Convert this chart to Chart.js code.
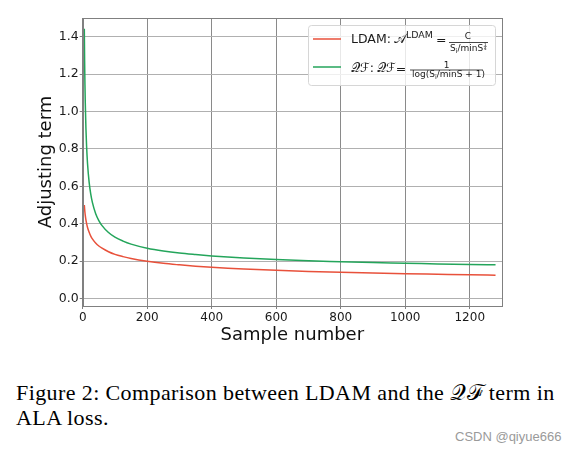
<!DOCTYPE html>
<html>
<head>
<meta charset="utf-8">
<script src="https://cdn.jsdelivr.net/npm/chart.js@4.4.0/dist/chart.umd.min.js"></script>
<style>
  body { margin: 0; background: #fff; width: 578px; height: 453px; overflow: hidden; position: relative; }
  #myChart { position: absolute; left: 0; top: 0; }
  .caption { position: absolute; left: 16px; top: 380px; font-family: "Liberation Serif", serif; font-size: 22px; letter-spacing: 0.4px; line-height: 25px; color: #000; white-space: nowrap; }
  .mark { position: absolute; left: 455px; top: 429px; font-family: "Liberation Sans", sans-serif; font-size: 13px; line-height: 15px; color: #9a9a9a; white-space: nowrap; }
</style>
</head>
<body>
<canvas id="myChart" width="578" height="350"></canvas>
<div class="caption">Figure 2: Comparison between LDAM and the 𝒬ℱ term in<br>ALA loss.</div>
<div class="mark">CSDN @qiyue666</div>
<script>
// data //
const sampleNumber = [5, 6, 7, 8, 10, 12, 15, 20, 25, 30, 40, 50, 60, 80, 100, 125, 150, 200, 250, 300, 350, 400, 450, 500, 600, 700, 800, 900, 1000, 1100, 1200, 1280];
const ldamTerm = [0.500, 0.478, 0.460, 0.445, 0.420, 0.402, 0.380, 0.354, 0.334, 0.319, 0.297, 0.281, 0.269, 0.250, 0.236, 0.224, 0.214, 0.199, 0.188, 0.180, 0.173, 0.167, 0.162, 0.158, 0.151, 0.145, 0.141, 0.137, 0.133, 0.130, 0.127, 0.125];
const qfTerm = [1.443, 1.268, 1.142, 1.047, 0.910, 0.817, 0.721, 0.621, 0.558, 0.514, 0.455, 0.417, 0.390, 0.353, 0.328, 0.307, 0.291, 0.269, 0.254, 0.243, 0.235, 0.228, 0.222, 0.217, 0.209, 0.202, 0.197, 0.192, 0.189, 0.185, 0.182, 0.180];
const xTicks = [0, 200, 400, 600, 800, 1000, 1200];
const yTicks = [0.0, 0.2, 0.4, 0.6, 0.8, 1.0, 1.2, 1.4];

const red = "#e8513b";
const green = "#24a55b";
const FONT = '"DejaVu Sans", "DejaVu Serif", "Noto Sans", sans-serif';

function toPoints(ys) {
  return sampleNumber.map((s, i) => ({ x: s, y: ys[i] }));
}

// text piece helper
function put(ctx, s, x, y, size, align) {
  ctx.font = size + "px " + FONT;
  ctx.textAlign = align || "left";
  ctx.fillText(s, x, y);
  return x + ctx.measureText(s).width;
}

const frame = {
  id: "frame",
  afterDraw(chart) {
    const { ctx, chartArea: a } = chart;
    ctx.save();
    ctx.strokeStyle = "#808080";
    ctx.lineWidth = 1;
    ctx.strokeRect(Math.round(a.left) + 0.5, Math.round(a.top) + 0.5, Math.round(a.right - a.left), Math.round(a.bottom - a.top));
    ctx.restore();
  }
};

const mathLegend = {
  id: "mathLegend",
  afterDraw(chart) {
    const ctx = chart.ctx;
    ctx.save();
    // box
    ctx.beginPath();
    ctx.roundRect(308.5, 25.5, 187, 60, 3);
    ctx.fillStyle = "rgba(255,255,255,0.8)";
    ctx.fill();
    ctx.strokeStyle = "#d6d6d6";
    ctx.lineWidth = 1;
    ctx.stroke();

    // samples
    ctx.lineWidth = 1.5;
    ctx.strokeStyle = red;
    ctx.beginPath(); ctx.moveTo(313, 39); ctx.lineTo(341, 39); ctx.stroke();
    ctx.strokeStyle = green;
    ctx.beginPath(); ctx.moveTo(313, 67); ctx.lineTo(341, 67); ctx.stroke();

    ctx.fillStyle = "#1a1a1a";
    ctx.textBaseline = "alphabetic";
    // LDAM entry
    put(ctx, "LDAM:", 351, 43, 12.5);
    put(ctx, "𝒜", 394, 43, 12.5);
    put(ctx, "LDAM", 406, 37.7, 9.4);
    put(ctx, "=", 436, 44, 12.5);
    ctx.fillRect(449, 42.2, 39, 0.8);
    put(ctx, "C", 468, 39, 9, "center");
    let x = put(ctx, "S", 450, 51, 9);
    x = put(ctx, "i", x, 52.5, 6.5);
    x = put(ctx, "/minS", x, 51, 9);
    put(ctx, "1", x + 2, 45.5, 4.5, "center");
    ctx.fillRect(x + 0.5, 46.3, 3, 0.5);
    put(ctx, "4", x + 2, 50, 4.5, "center");

    // QF entry
    x = put(ctx, "𝒬ℱ", 351, 71.5, 12.5);
    x = put(ctx, ":", x, 71.5, 12.5);
    x = put(ctx, "𝒬ℱ", x + 3, 71.5, 12.5);
    put(ctx, "=", x, 72.5, 12.5);
    ctx.fillRect(410, 69.6, 73, 0.8);
    put(ctx, "1", 446.7, 67.7, 9, "center");
    x = put(ctx, "log(S", 412, 77, 9);
    x = put(ctx, "i", x, 78.5, 6.5);
    put(ctx, "/minS + 1)", x, 77, 9);
    ctx.restore();
  }
};

new Chart("myChart", {
  type: "line",
  data: {
    datasets: [{
      label: "LDAM",
      data: toPoints(ldamTerm),
      borderColor: red,
      borderWidth: 1.5,
      pointRadius: 0,
      cubicInterpolationMode: "monotone",
      fill: false
    }, {
      label: "QF",
      data: toPoints(qfTerm),
      borderColor: green,
      borderWidth: 1.5,
      pointRadius: 0,
      cubicInterpolationMode: "monotone",
      fill: false
    }]
  },
  options: {
    responsive: false,
    animation: false,
    layout: { padding: { left: 36, top: 18, right: 76, bottom: 4 } },
    plugins: {
      legend: { display: false },
      tooltip: { enabled: false }
    },
    scales: {
      x: {
        type: "linear",
        min: 0,
        max: 1300,
        afterBuildTicks: s => { s.ticks = xTicks.map(v => ({ value: v })); },
        afterFit: s => { s.height = 40; },
        grid: { color: "#8a8a8a", tickColor: "#808080", tickLength: 3 },
        border: { color: "#808080" },
        ticks: { font: { family: FONT, size: 12 }, color: "#1a1a1a", padding: 2, maxRotation: 0, autoSkip: false, callback: v => String(v) },
        title: { display: true, text: "Sample number", font: { family: FONT, size: 18 }, color: "#111", padding: 0 }
      },
      y: {
        min: -0.04,
        max: 1.5,
        afterBuildTicks: s => { s.ticks = yTicks.map(v => ({ value: v })); },
        afterFit: s => { s.width = 46.7; },
        grid: { color: "#b0b0b0", tickColor: "#808080", tickLength: 3 },
        border: { color: "#808080" },
        ticks: { font: { family: FONT, size: 12.5 }, color: "#1a1a1a", padding: 1, callback: v => v.toFixed(1) },
        title: { display: true, text: "Adjusting term", font: { family: FONT, size: 18 }, color: "#111", padding: 0 }
      }
    }
  },
  plugins: [frame, mathLegend]
});
</script>
</body>
</html>
